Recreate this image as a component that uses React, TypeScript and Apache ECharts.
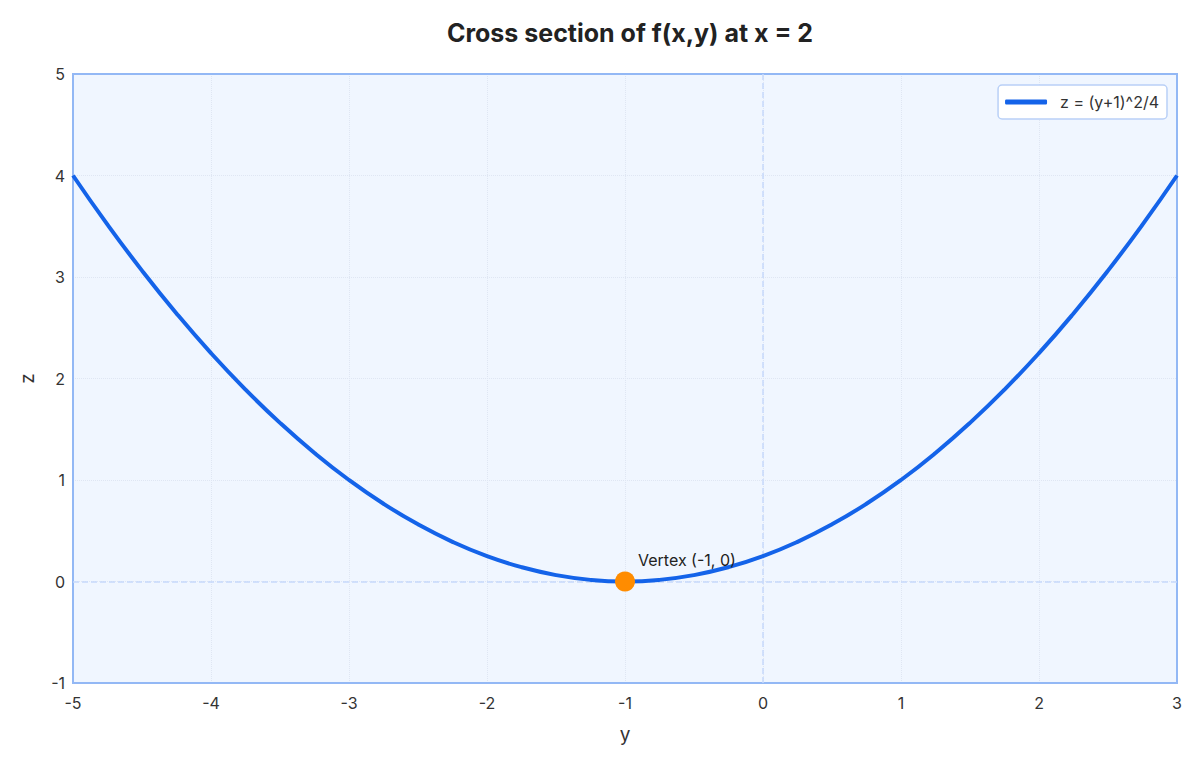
import React, { useEffect, useRef } from "react";
import * as echarts from "echarts";

const yValues = [-5, -4.75, -4.5, -4.25, -4, -3.75, -3.5, -3.25, -3, -2.75, -2.5, -2.25, -2, -1.75, -1.5, -1.25, -1, -0.75, -0.5, -0.25, 0, 0.25, 0.5, 0.75, 1, 1.25, 1.5, 1.75, 2, 2.25, 2.5, 2.75, 3];
const zValues = [4, 3.516, 3.063, 2.641, 2.25, 1.891, 1.563, 1.266, 1, 0.766, 0.563, 0.391, 0.25, 0.141, 0.063, 0.016, 0, 0.016, 0.063, 0.141, 0.25, 0.391, 0.563, 0.766, 1, 1.266, 1.563, 1.891, 2.25, 2.641, 3.063, 3.516, 4];
const vertex = [-1, 0];
const seriesName = "z = (y+1)^2/4";
const titleText = "Cross section of f(x,y) at x = 2";

const FONT = "Inter, 'Noto Sans', sans-serif";

export default function App() {
  const ref = useRef<HTMLDivElement>(null);
  useEffect(() => {
    if (!ref.current) return;
    const chart = echarts.init(ref.current, null, { renderer: "svg" });
    chart.setOption({
      animation: false,
      textStyle: { fontFamily: FONT },
      title: {
        text: titleText,
        left: 625,
        textAlign: "center",
        top: 15,
        textStyle: { fontSize: 25, fontWeight: "bold", color: "#222", fontFamily: FONT },
      },
      legend: {
        data: [seriesName],
        right: 33,
        top: 85,
        icon: "roundRect",
        itemWidth: 42,
        itemHeight: 5,
        padding: [9, 8, 9, 7],
        borderColor: "#b9d0f7",
        borderWidth: 1.5,
        borderRadius: 4,
        backgroundColor: "#ffffff",
        textStyle: { fontSize: 16, color: "#333", fontFamily: FONT, padding: [0, 0, 0, 8] },
      },
      grid: {
        left: 73,
        right: 23,
        top: 74,
        bottom: 77,
        show: true,
        backgroundColor: "#f0f6ff",
        borderWidth: 0,
      },
      graphic: [
        {
          type: "rect",
          z: 1,
          silent: true,
          shape: { x: 73, y: 74, width: 1104, height: 609 },
          style: { fill: "none", stroke: "#93b8f5", lineWidth: 2 },
        },
      ],
      xAxis: {
        type: "value",
        min: -5,
        max: 3,
        interval: 1,
        name: "y",
        nameLocation: "middle",
        nameGap: 42,
        nameTextStyle: { fontSize: 19, color: "#333" },
        axisLine: { show: false },
        axisTick: { show: false },
        axisLabel: { fontSize: 16, color: "#333", margin: 12 },
        splitLine: { show: true, lineStyle: { color: "#dfe6f3", type: "dotted", width: 1 } },
      },
      yAxis: {
        type: "value",
        min: -1,
        max: 5,
        interval: 1,
        name: "z",
        nameLocation: "middle",
        nameGap: 36,
        nameTextStyle: { fontSize: 19, color: "#333" },
        axisLine: { show: false },
        axisTick: { show: false },
        axisLabel: { fontSize: 16, color: "#333", margin: 8 },
        splitLine: { show: true, lineStyle: { color: "#dfe6f3", type: "dotted", width: 1 } },
      },
      series: [
        {
          name: seriesName,
          type: "line",
          data: yValues.map((y, i) => [y, zValues[i]]),
          smooth: true,
          symbol: "none",
          lineStyle: { color: "#1463e9", width: 4 },
          itemStyle: { color: "#1463e9" },
          z: 3,
          markLine: {
            silent: true,
            symbol: "none",
            label: { show: false },
            lineStyle: { color: "#c6d9fb", type: "dashed", width: 1.5 },
            data: [{ xAxis: 0 }, { yAxis: 0 }],
            z: 1,
          },
        },
        {
          name: "Vertex",
          type: "scatter",
          data: [vertex],
          symbolSize: 20,
          itemStyle: { color: "#ff8c00", opacity: 1 },
          z: 5,
          label: {
            show: true,
            formatter: "Vertex (-1, 0)",
            position: [23, -20],
            fontSize: 16,
            color: "#222",
            fontFamily: FONT,
          },
        },
      ],
    });
    return () => chart.dispose();
  }, []);
  return <div ref={ref} style={{ width: 1200, height: 760, margin: -8 }} />;
}
